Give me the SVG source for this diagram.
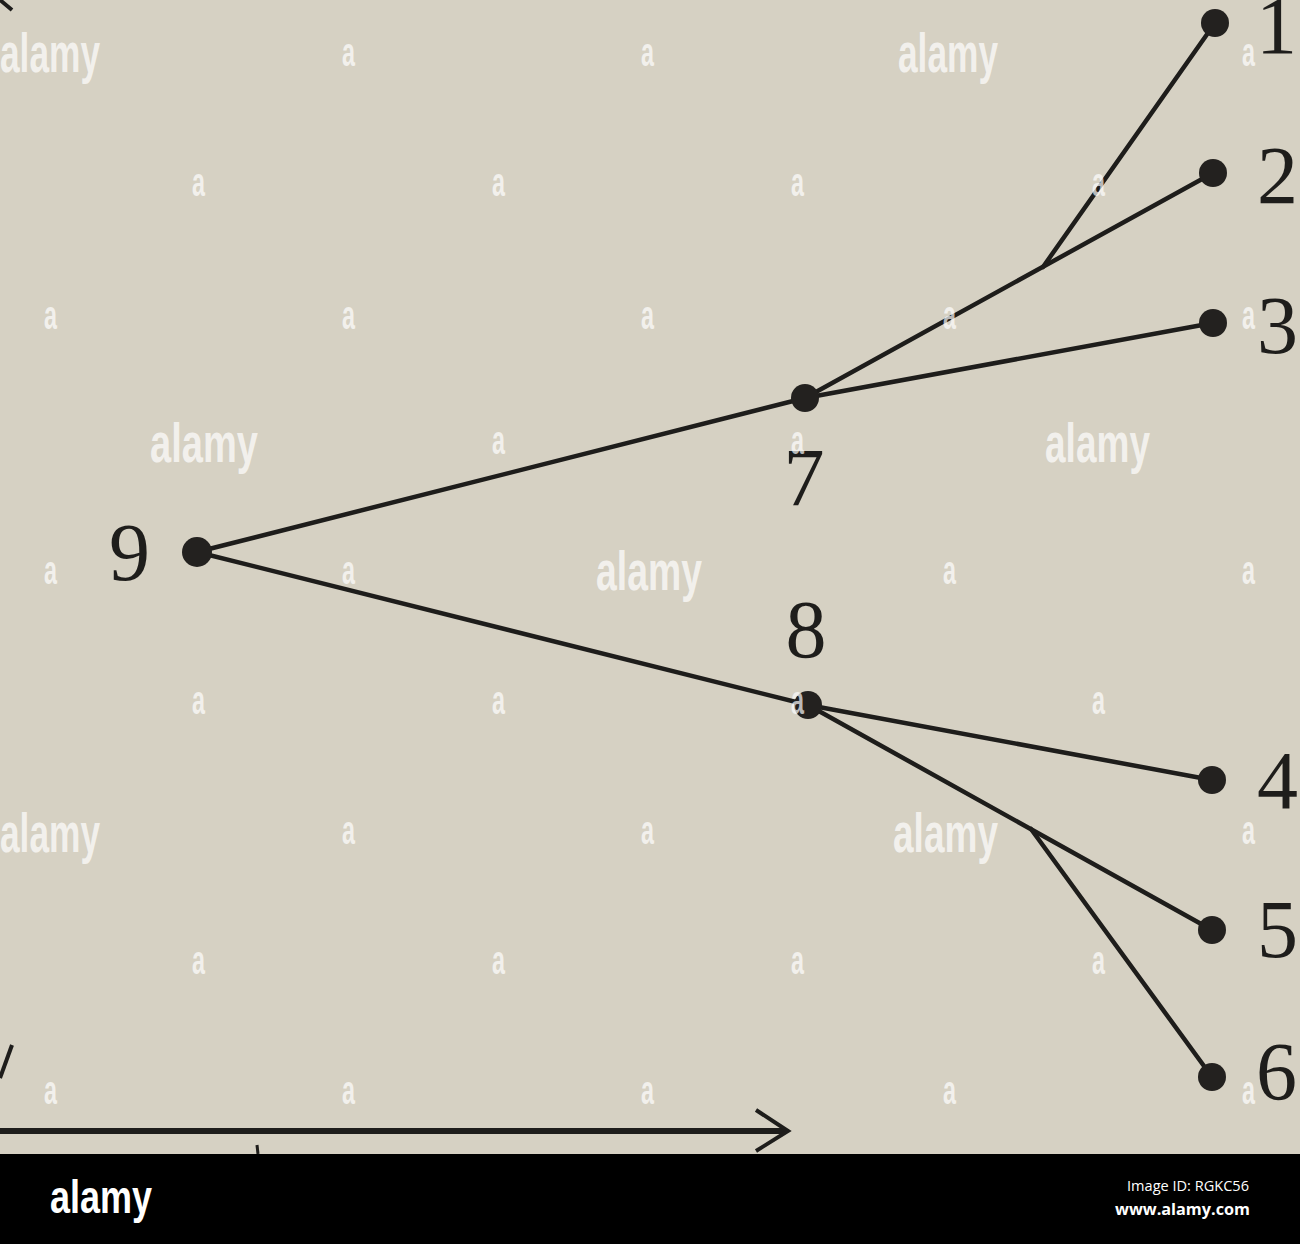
<svg xmlns="http://www.w3.org/2000/svg" width="1300" height="1244" viewBox="0 0 1300 1244">
<style>
.edge{stroke:#1e1d1b;stroke-width:4.5;fill:none;stroke-linecap:round}
.dot{fill:#23211f}
.lbl{font-family:"Liberation Serif","Times New Roman",serif;font-size:82px;fill:#1e1d1b}
.wm{font-family:"Liberation Sans Narrow","Liberation Sans",Arial,sans-serif;font-weight:bold;fill:#ffffff;fill-opacity:0.7}
.logo{font-family:"Liberation Sans Narrow","Liberation Sans",Arial,sans-serif;font-weight:bold;fill:#ffffff}
.foot{font-family:"Open Sans","Noto Sans","DejaVu Sans",sans-serif;fill:#ffffff}
</style>
<rect x="0" y="0" width="1300" height="1244" fill="#d6d1c3"/>
<g id="connectors">
<line class="edge" x1="197" y1="552" x2="805" y2="398"/>
<line class="edge" x1="197" y1="552" x2="808" y2="705"/>
<line class="edge" x1="805" y1="398" x2="1213" y2="173"/>
<line class="edge" x1="1043" y1="267" x2="1215" y2="23"/>
<line class="edge" x1="805" y1="398" x2="1213" y2="323"/>
<line class="edge" x1="808" y1="705" x2="1212" y2="780"/>
<line class="edge" x1="808" y1="705" x2="1212" y2="930"/>
<line class="edge" x1="1031" y1="829" x2="1212" y2="1077"/>
</g>
<g id="node1"><circle class="dot" cx="1215" cy="23" r="14"/><text class="lbl" x="1256" y="53">1</text></g>
<g id="node2"><circle class="dot" cx="1213" cy="173" r="14"/><text class="lbl" x="1257" y="203">2</text></g>
<g id="node3"><circle class="dot" cx="1213" cy="323" r="14"/><text class="lbl" x="1257" y="353">3</text></g>
<g id="node4"><circle class="dot" cx="1212" cy="780" r="14"/><text class="lbl" x="1257" y="808">4</text></g>
<g id="node5"><circle class="dot" cx="1212" cy="930" r="14"/><text class="lbl" x="1257" y="957">5</text></g>
<g id="node6"><circle class="dot" cx="1212" cy="1077" r="14"/><text class="lbl" x="1256" y="1099">6</text></g>
<g id="node7"><circle class="dot" cx="805" cy="398" r="14"/><text class="lbl" x="804" y="505" text-anchor="middle">7</text></g>
<g id="node8"><circle class="dot" cx="808" cy="705" r="14"/><text class="lbl" x="806" y="657" text-anchor="middle">8</text></g>
<g id="node9"><circle class="dot" cx="197" cy="552" r="15"/><text class="lbl" x="109" y="580">9</text></g>
<g id="axis">
<line x1="0" y1="1131" x2="786" y2="1131" stroke="#1e1d1b" stroke-width="6"/>
<polyline points="756,1110 788,1131 756,1151" fill="none" stroke="#1e1d1b" stroke-width="4"/>
<line x1="12" y1="1045" x2="0" y2="1078" stroke="#1e1d1b" stroke-width="4"/>
<line x1="0" y1="0" x2="12" y2="10" stroke="#1e1d1b" stroke-width="4"/>
<line x1="257" y1="1145" x2="258" y2="1154" stroke="#1e1d1b" stroke-width="3"/>
</g>
<g id="watermarks">
<text class="wm" x="0" y="72" font-size="55" textLength="100" lengthAdjust="spacingAndGlyphs">alamy</text>
<text class="wm" x="898" y="72" font-size="55" textLength="100" lengthAdjust="spacingAndGlyphs">alamy</text>
<text class="wm" x="150" y="462" font-size="55" textLength="108" lengthAdjust="spacingAndGlyphs">alamy</text>
<text class="wm" x="1045" y="462" font-size="55" textLength="105" lengthAdjust="spacingAndGlyphs">alamy</text>
<text class="wm" x="596" y="590" font-size="55" textLength="106" lengthAdjust="spacingAndGlyphs">alamy</text>
<text class="wm" x="0" y="852" font-size="55" textLength="100" lengthAdjust="spacingAndGlyphs">alamy</text>
<text class="wm" x="893" y="852" font-size="55" textLength="105" lengthAdjust="spacingAndGlyphs">alamy</text>
<g font-size="40">
<text class="wm" x="342" y="66" textLength="13" lengthAdjust="spacingAndGlyphs">a</text>
<text class="wm" x="641" y="66" textLength="13" lengthAdjust="spacingAndGlyphs">a</text>
<text class="wm" x="1242" y="66" textLength="13" lengthAdjust="spacingAndGlyphs">a</text>
<text class="wm" x="192" y="196" textLength="13" lengthAdjust="spacingAndGlyphs">a</text>
<text class="wm" x="492" y="196" textLength="13" lengthAdjust="spacingAndGlyphs">a</text>
<text class="wm" x="791" y="196" textLength="13" lengthAdjust="spacingAndGlyphs">a</text>
<text class="wm" x="1092" y="196" textLength="13" lengthAdjust="spacingAndGlyphs">a</text>
<text class="wm" x="44" y="329" textLength="13" lengthAdjust="spacingAndGlyphs">a</text>
<text class="wm" x="342" y="329" textLength="13" lengthAdjust="spacingAndGlyphs">a</text>
<text class="wm" x="641" y="329" textLength="13" lengthAdjust="spacingAndGlyphs">a</text>
<text class="wm" x="943" y="329" textLength="13" lengthAdjust="spacingAndGlyphs">a</text>
<text class="wm" x="1242" y="329" textLength="13" lengthAdjust="spacingAndGlyphs">a</text>
<text class="wm" x="492" y="454" textLength="13" lengthAdjust="spacingAndGlyphs">a</text>
<text class="wm" x="791" y="454" textLength="13" lengthAdjust="spacingAndGlyphs">a</text>
<text class="wm" x="44" y="584" textLength="13" lengthAdjust="spacingAndGlyphs">a</text>
<text class="wm" x="342" y="584" textLength="13" lengthAdjust="spacingAndGlyphs">a</text>
<text class="wm" x="943" y="584" textLength="13" lengthAdjust="spacingAndGlyphs">a</text>
<text class="wm" x="1242" y="584" textLength="13" lengthAdjust="spacingAndGlyphs">a</text>
<text class="wm" x="192" y="714" textLength="13" lengthAdjust="spacingAndGlyphs">a</text>
<text class="wm" x="492" y="714" textLength="13" lengthAdjust="spacingAndGlyphs">a</text>
<text class="wm" x="791" y="714" textLength="13" lengthAdjust="spacingAndGlyphs">a</text>
<text class="wm" x="1092" y="714" textLength="13" lengthAdjust="spacingAndGlyphs">a</text>
<text class="wm" x="342" y="844" textLength="13" lengthAdjust="spacingAndGlyphs">a</text>
<text class="wm" x="641" y="844" textLength="13" lengthAdjust="spacingAndGlyphs">a</text>
<text class="wm" x="1242" y="844" textLength="13" lengthAdjust="spacingAndGlyphs">a</text>
<text class="wm" x="192" y="974" textLength="13" lengthAdjust="spacingAndGlyphs">a</text>
<text class="wm" x="492" y="974" textLength="13" lengthAdjust="spacingAndGlyphs">a</text>
<text class="wm" x="791" y="974" textLength="13" lengthAdjust="spacingAndGlyphs">a</text>
<text class="wm" x="1092" y="974" textLength="13" lengthAdjust="spacingAndGlyphs">a</text>
<text class="wm" x="44" y="1104" textLength="13" lengthAdjust="spacingAndGlyphs">a</text>
<text class="wm" x="342" y="1104" textLength="13" lengthAdjust="spacingAndGlyphs">a</text>
<text class="wm" x="641" y="1104" textLength="13" lengthAdjust="spacingAndGlyphs">a</text>
<text class="wm" x="943" y="1104" textLength="13" lengthAdjust="spacingAndGlyphs">a</text>
<text class="wm" x="1242" y="1104" textLength="13" lengthAdjust="spacingAndGlyphs">a</text>
</g>
</g>
<g id="footer">
<rect x="0" y="1154" width="1300" height="90" fill="#000000"/>
<text class="logo" x="50" y="1213" font-size="46" textLength="102" lengthAdjust="spacingAndGlyphs">alamy</text>
<text class="foot" x="1249" y="1191" font-size="14" text-anchor="end" textLength="122" lengthAdjust="spacingAndGlyphs">Image ID: RGKC56</text>
<text class="foot" x="1250" y="1215" font-size="16" font-weight="bold" text-anchor="end" textLength="135" lengthAdjust="spacingAndGlyphs">www.alamy.com</text>
</g>
</svg>
